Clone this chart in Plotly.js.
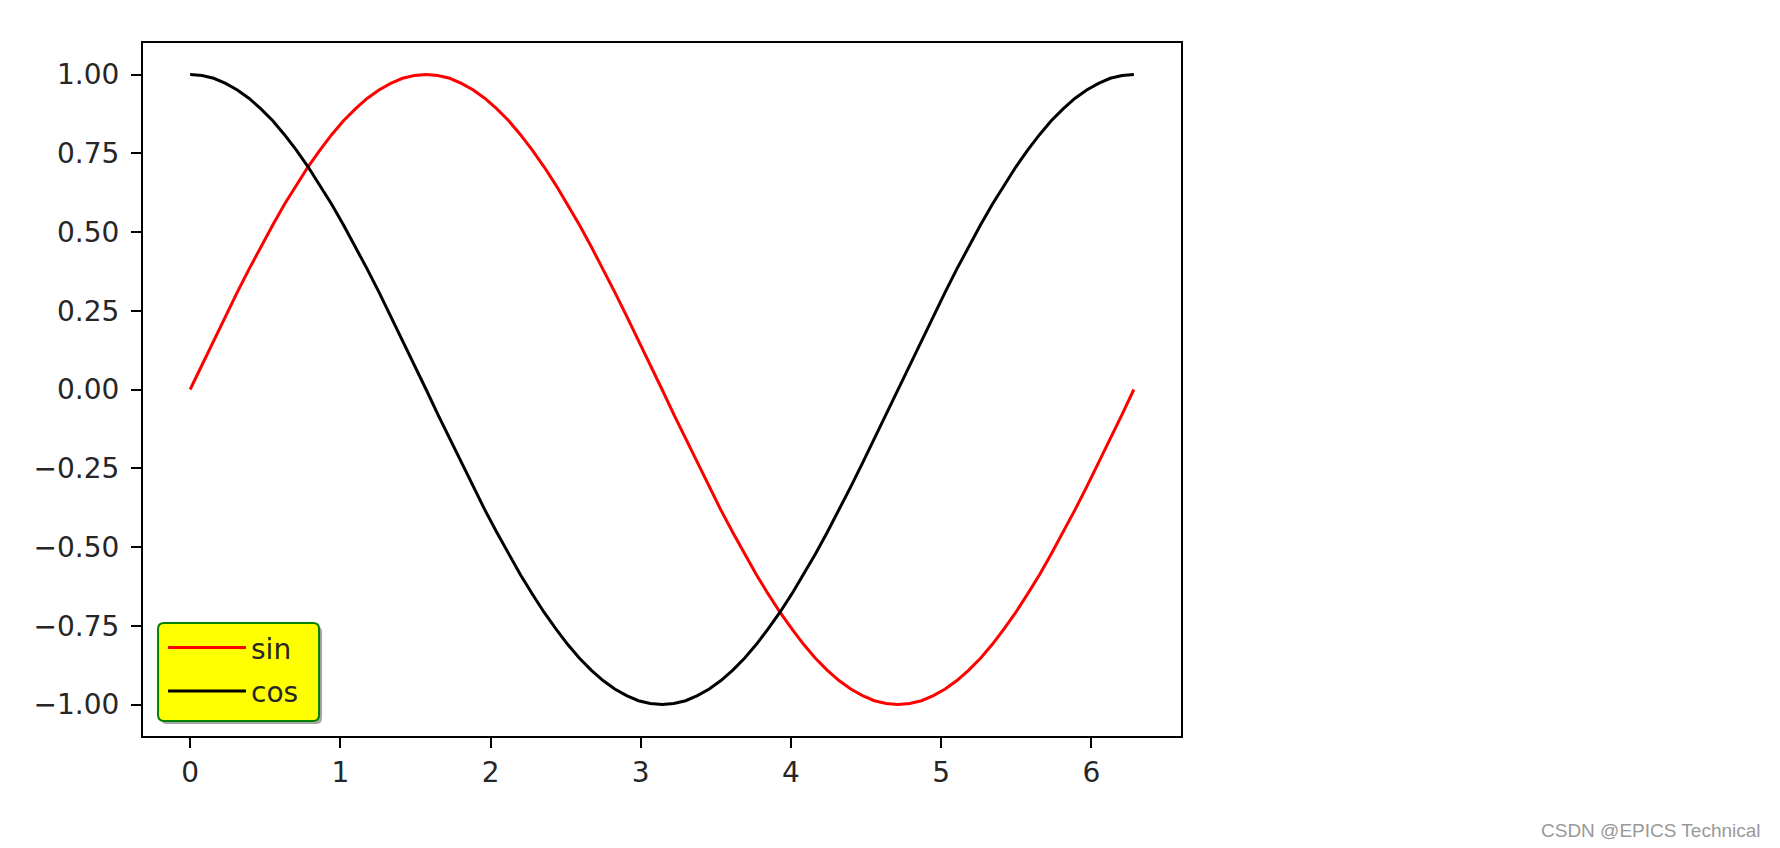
<!DOCTYPE html>
<html>
<head>
<meta charset="utf-8">
<script src="https://cdn.plot.ly/plotly-3.0.1.min.js"></script>
<style>
  html, body { margin: 0; padding: 0; background: #fff; }
  #chart { width: 1780px; height: 848px; }
</style>
</head>
<body>
<div id="chart"></div>
<script>
// values, one point every ~0.0785 on x
var xs = [0, 0.079, 0.157, 0.236, 0.314, 0.393, 0.471, 0.550, 0.628, 0.707,
  0.785, 0.864, 0.942, 1.021, 1.100, 1.178, 1.257, 1.335, 1.414, 1.492,
  1.571, 1.649, 1.728, 1.806, 1.885, 1.963, 2.042, 2.121, 2.199, 2.278,
  2.356, 2.435, 2.513, 2.592, 2.670, 2.749, 2.827, 2.906, 2.985, 3.063,
  3.142, 3.220, 3.299, 3.377, 3.456, 3.534, 3.613, 3.691, 3.770, 3.848,
  3.927, 4.006, 4.084, 4.163, 4.241, 4.320, 4.398, 4.477, 4.555, 4.634,
  4.712, 4.791, 4.869, 4.948, 5.027, 5.105, 5.184, 5.262, 5.341, 5.419,
  5.498, 5.576, 5.655, 5.733, 5.812, 5.890, 5.969, 6.048, 6.126, 6.205, 6.283];
var sinVals = [0, 0.079, 0.156, 0.233, 0.309, 0.383, 0.454, 0.522, 0.588, 0.649,
  0.707, 0.760, 0.809, 0.853, 0.891, 0.924, 0.951, 0.972, 0.988, 0.997,
  1.0, 0.997, 0.988, 0.972, 0.951, 0.924, 0.891, 0.853, 0.809, 0.760,
  0.707, 0.649, 0.588, 0.522, 0.454, 0.383, 0.309, 0.233, 0.156, 0.079,
  0, -0.079, -0.156, -0.233, -0.309, -0.383, -0.454, -0.522, -0.588, -0.649,
  -0.707, -0.760, -0.809, -0.853, -0.891, -0.924, -0.951, -0.972, -0.988, -0.997,
  -1.0, -0.997, -0.988, -0.972, -0.951, -0.924, -0.891, -0.853, -0.809, -0.760,
  -0.707, -0.649, -0.588, -0.522, -0.454, -0.383, -0.309, -0.233, -0.156, -0.079, 0];
var cosVals = [1.0, 0.997, 0.988, 0.972, 0.951, 0.924, 0.891, 0.853, 0.809, 0.760,
  0.707, 0.649, 0.588, 0.522, 0.454, 0.383, 0.309, 0.233, 0.156, 0.079,
  0, -0.079, -0.156, -0.233, -0.309, -0.383, -0.454, -0.522, -0.588, -0.649,
  -0.707, -0.760, -0.809, -0.853, -0.891, -0.924, -0.951, -0.972, -0.988, -0.997,
  -1.0, -0.997, -0.988, -0.972, -0.951, -0.924, -0.891, -0.853, -0.809, -0.760,
  -0.707, -0.649, -0.588, -0.522, -0.454, -0.383, -0.309, -0.233, -0.156, -0.079,
  0, 0.079, 0.156, 0.233, 0.309, 0.383, 0.454, 0.522, 0.588, 0.649,
  0.707, 0.760, 0.809, 0.853, 0.891, 0.924, 0.951, 0.972, 0.988, 0.997, 1.0];
var xTicks = [0, 1, 2, 3, 4, 5, 6];
var yTicks = [1.0, 0.75, 0.5, 0.25, 0, -0.25, -0.5, -0.75, -1.0];
var yTickText = ['1.00', '0.75', '0.50', '0.25', '0.00', '\u22120.25', '\u22120.50', '\u22120.75', '\u22121.00'];

var font = { family: 'DejaVu Sans', size: 28, color: '#262626' };

var data = [
  { x: xs, y: sinVals, name: 'sin', type: 'scatter', mode: 'lines', legendgroup: 'a',
    line: { color: '#ff0000', width: 3 } },
  { x: xs, y: cosVals, name: 'cos', type: 'scatter', mode: 'lines', legendgroup: 'b',
    line: { color: '#000000', width: 3 } }
];

var axisCommon = {
  showgrid: false, zeroline: false,
  showline: true, mirror: true, linecolor: '#000', linewidth: 2,
  ticks: 'outside', ticklen: 10, tickwidth: 2, tickcolor: '#000',
  tickfont: font
};

// rounded box path in paper units (corner radius ~6px)
function roundBox(x0, y0, x1, y1) {
  var rx = 6 / 1038, ry = 6 / 693;
  return 'M' + (x0 + rx) + ',' + y0 + ' L' + (x1 - rx) + ',' + y0 +
    ' Q' + x1 + ',' + y0 + ' ' + x1 + ',' + (y0 + ry) +
    ' L' + x1 + ',' + (y1 - ry) + ' Q' + x1 + ',' + y1 + ' ' + (x1 - rx) + ',' + y1 +
    ' L' + (x0 + rx) + ',' + y1 + ' Q' + x0 + ',' + y1 + ' ' + x0 + ',' + (y1 - ry) +
    ' L' + x0 + ',' + (y0 + ry) + ' Q' + x0 + ',' + y0 + ' ' + (x0 + rx) + ',' + y0 + ' Z';
}

var layout = {
  width: 1780, height: 848,
  margin: { l: 143, r: 599, t: 43, b: 112 },
  paper_bgcolor: '#fff', plot_bgcolor: '#fff',
  font: font,
  xaxis: Object.assign({}, axisCommon, {
    range: [-0.314, 6.597], tickvals: xTicks, ticktext: xTicks.map(String)
  }),
  yaxis: Object.assign({}, axisCommon, {
    range: [-1.1, 1.1], tickvals: yTicks, ticktext: yTickText,
    ticklabelstandoff: 6
  }),
  showlegend: true,
  legend: {
    x: 0.0193, y: 0.029, xanchor: 'left', yanchor: 'bottom',
    bgcolor: 'rgba(0,0,0,0)', borderwidth: 0,
    font: font, itemwidth: 78,
    traceorder: 'grouped', tracegroupgap: 4
  },
  shapes: [
    { type: 'path', xref: 'paper', yref: 'paper', layer: 'above',
      path: roundBox(0.0173, 0.0173, 0.1725, 0.1588),
      fillcolor: 'rgba(0,0,0,0.35)', line: { width: 0 } },
    { type: 'path', xref: 'paper', yref: 'paper', layer: 'above',
      path: roundBox(0.0145, 0.0216, 0.1696, 0.1631),
      fillcolor: '#ffff00', line: { color: '#008000', width: 2 } }
  ],
  annotations: [{
    text: 'CSDN @EPICS Technical', showarrow: false,
    xref: 'paper', yref: 'paper', x: 1.0, y: -0.137,
    xanchor: 'right', yanchor: 'middle',
    xshift: 582,
    font: { family: 'Liberation Sans', size: 19, color: '#999' }
  }]
};

Plotly.newPlot('chart', data, layout, { displayModeBar: false, staticPlot: true });
</script>
</body>
</html>
